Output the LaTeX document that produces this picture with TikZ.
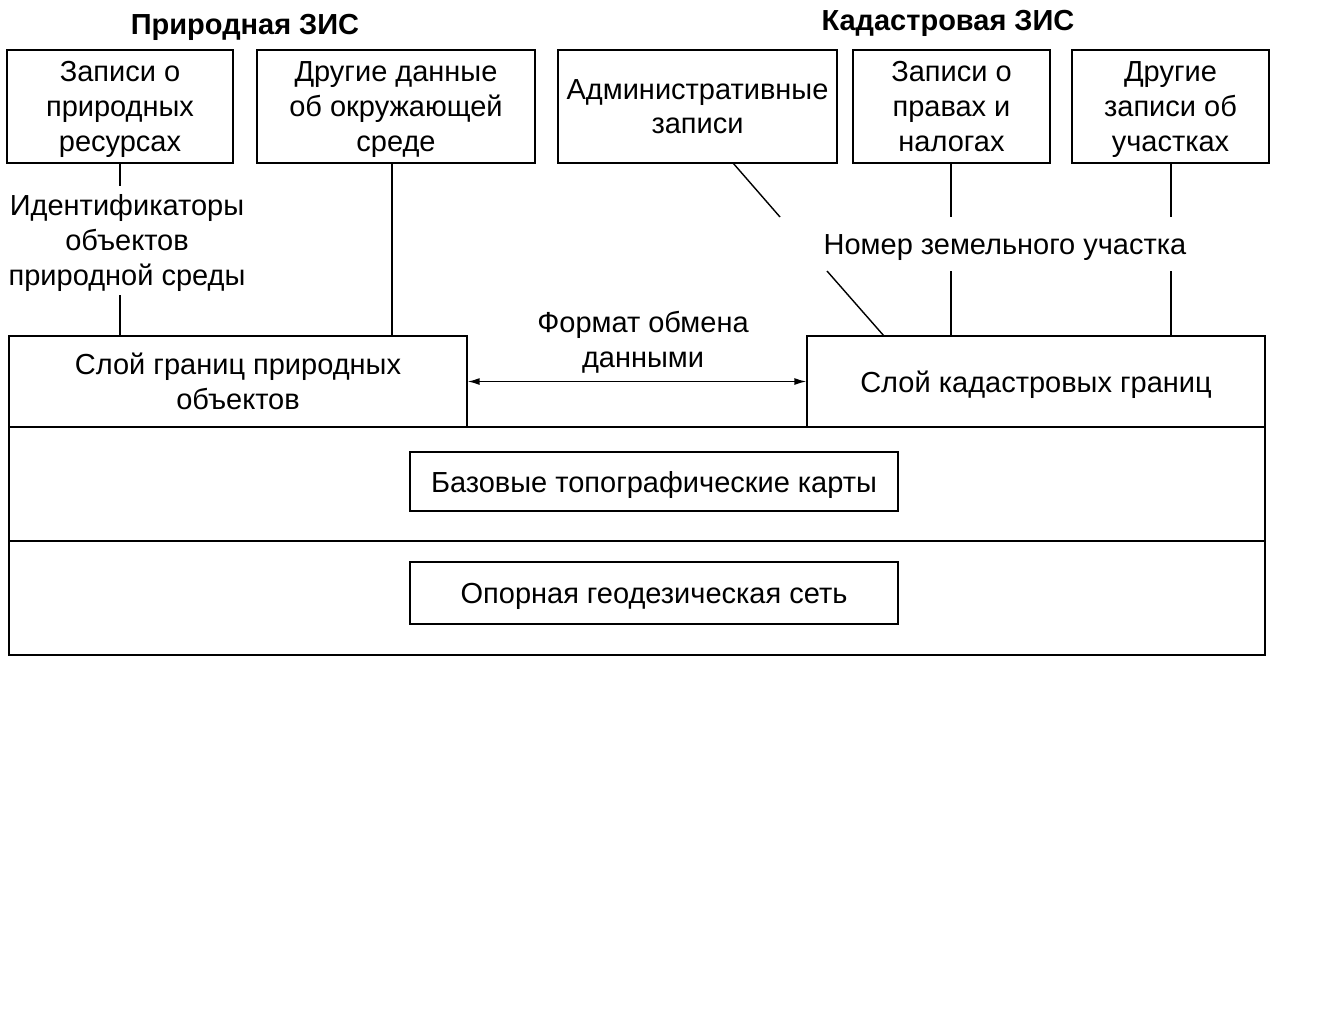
\documentclass[tikz,border=0pt]{standalone}
\usepackage{fontspec}
\setmainfont{Liberation Sans}
\usepackage{tikz}
\usetikzlibrary{positioning, calc, arrows.meta}
\tikzstyle{recbox} = [draw, rectangle, align=center, text depth=0pt,
inner sep = 0pt, minimum height = 2.26cm]
\tikzstyle{layerbox} = [draw, rectangle, align=center, text depth=0pt,
inner sep = 0pt, minimum width = 9.16cm, minimum height = 1.82cm]
\tikzstyle{bandbox} = [draw, rectangle,
inner sep = 0pt, minimum width = 25.12cm, minimum height = 2.28cm]
\tikzstyle{basebox} = [draw, rectangle, text depth=0pt,
inner sep = 0pt, minimum width = 9.76cm]
\tikzstyle{titlebox} = [font=\fontsize{16.5}{19.8}\selectfont\bfseries]
\tikzstyle{keybox} = [align=center, inner sep = 0pt]

\begin{document}
\begin{tikzpicture}[x=0.02cm, y=-0.02cm, line width=0.8pt,
  font=\fontsize{16.5}{19.8}\selectfont]
	\useasboundingbox (0,0) rectangle (1344,1008);
	%% Titles
	\node[titlebox] (natTitle) at (245, 27) {Природная ЗИС};
	\node[titlebox] (cadTitle) at (948, 23) {Кадастровая ЗИС};
	%% Records
	\node[recbox, minimum width=4.52cm] (natRec) at (120, 106.5) {Записи о\\природных\\ресурсах};
	\node[recbox, minimum width=5.56cm] (envRec) at (396, 106.5) {Другие данные\\об окружающей\\среде};
	\node[recbox, minimum width=5.58cm] (admRec) at (697.5, 106.5) {Административные\\записи};
	\node[recbox, minimum width=3.94cm] (taxRec) at (951.5, 106.5) {Записи о\\правах и\\налогах};
	\node[recbox, minimum width=3.94cm] (lotRec) at (1170.5, 106.5) {Другие\\записи об\\участках};
	%% Keys
	\node[keybox] (natKey) at (127, 243) {Идентификаторы\\объектов\\природной среды};
	\node[keybox] (lotKey) at (1005, 248) {Номер земельного участка};
	%% Layers
	\node[layerbox] (natLayer) at (238, 381.5) {Слой границ природных\\объектов};
	\node[layerbox] (cadLayer) at (1036, 381.5) {Слой кадастровых границ};
	\node[bandbox] (topoBand) at (637, 484) {};
	\node[bandbox] (geoBand) at (637, 598) {};
	\node[basebox, minimum height=1.18cm] (topo) at (654, 481.5) {Базовые топографические карты};
	\node[basebox, minimum height=1.24cm] (geo) at (654, 593) {Опорная геодезическая сеть};
	%% Records to layers
	\draw (natRec.south) -- ($(natRec.south)+(0,22)$);
	\draw ($(natLayer.north -| natRec.south)+(0,-40)$) -- (natLayer.north -| natRec.south);
	\draw (envRec.south -| 392,0) -- (natLayer.north -| 392,0);
	\coordinate (admA) at (733, 163);
	\coordinate (admB) at (780, 217);
	\coordinate (admC) at (827, 271);
	\coordinate (admD) at (884, 336);
	\draw (admA) -- (admB);
	\draw (admC) -- (admD);
	\draw (taxRec.south -| 951,0) -- (951, 217);
	\draw (951, 271) -- (cadLayer.north -| 951,0);
	\draw (lotRec.south -| 1171,0) -- (1171, 217);
	\draw (1171, 271) -- (cadLayer.north -| 1171,0);
	%% Exchange
	\draw[{Latex[length=2.4mm, width=1.4mm]}-{Latex[length=2.4mm, width=1.4mm]}] (natLayer.east) -- (cadLayer.west)
    node[midway, above=0.16cm, xshift=0.12cm, keybox] {Формат обмена\\данными};
\end{tikzpicture}
\end{document}
